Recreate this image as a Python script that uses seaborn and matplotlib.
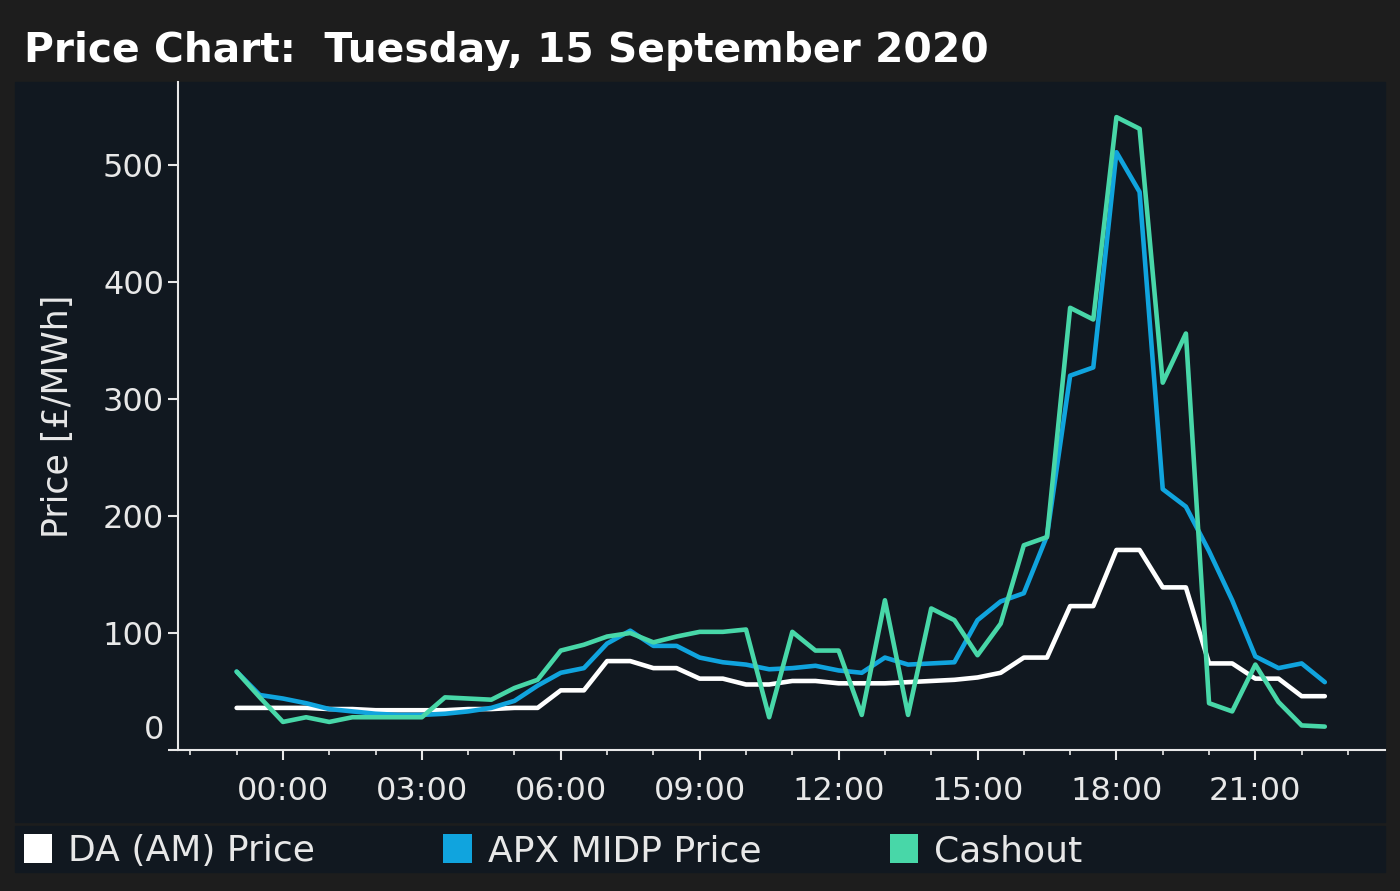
import matplotlib
matplotlib.use("Agg")
import matplotlib.dates as mdates
import matplotlib.pyplot as plt
from matplotlib.patches import Patch, Rectangle
from matplotlib.transforms import ScaledTranslation
import pandas as pd
import seaborn as sns

OUTER = "#1d1d1d"
PANEL = "#111820"
FG = "#e8e8e8"

# 48 half-hourly settlement periods, BST day starts 23:00 UTC the evening before
TIMES = pd.date_range("2020-09-14 23:00", periods=48, freq="30min")

SERIES = ["DA (AM) Price", "APX MIDP Price", "Cashout"]
COLOURS = ["#ffffff", "#10a4de", "#48d7a8"]

DA_PRICE = [36, 36, 36, 36, 35, 35, 34, 34, 34, 34, 35, 35, 36, 36,
            51, 51, 76, 76, 70, 70, 61, 61, 56, 56, 59, 59, 57, 57, 57, 58, 59, 60,
            62, 66, 79, 79, 123, 123, 171, 171, 139, 139, 74, 74, 61, 61, 46, 46]
APX_PRICE = [67, 47, 44, 40, 35, 33, 31, 30, 30, 31, 33, 36, 42, 55,
             66, 70, 91, 102, 89, 89, 79, 75, 73, 69, 70, 72, 68, 66,
             79, 73, 74, 75, 111, 127, 134, 183,
             320, 327, 511, 477, 223, 208, 170, 128, 80, 70, 74, 58]
CASHOUT = [67, 45, 24, 28, 24, 28, 28, 28, 28, 45, 44, 43, 53, 60,
           85, 90, 97, 100, 92, 97, 101, 101, 103, 28, 101, 85, 85, 30,
           128, 30, 121, 111, 81, 108, 175, 182,
           378, 368, 541, 531, 314, 356, 40, 33, 73, 41, 21, 20]

Y_TICKS = [0, 100, 200, 300, 400, 500]

W, H = 1400, 891


def main():
    sns.set_style("ticks", rc={"axes.facecolor": PANEL, "figure.facecolor": OUTER,
                               "axes.edgecolor": FG, "xtick.color": FG,
                               "ytick.color": FG, "text.color": FG,
                               "axes.labelcolor": FG})
    plt.rcParams["font.family"] = ["DejaVu Sans"]

    prices = pd.DataFrame({"time": TIMES, SERIES[0]: DA_PRICE,
                           SERIES[1]: APX_PRICE, SERIES[2]: CASHOUT})
    prices = prices.melt("time", var_name="series", value_name="price")

    fig = plt.figure(figsize=(W / 100, H / 100), dpi=100)
    # dark panel behind the chart and behind the legend row
    fig.patches.append(Rectangle((15 / W, 1 - 822 / H), 1370 / W, 740 / H,
                                 transform=fig.transFigure, color=PANEL, zorder=-5))
    fig.patches.append(Rectangle((15 / W, 1 - 872 / H), 1370 / W, 46 / H,
                                 transform=fig.transFigure, color=PANEL, zorder=-5))

    ax = fig.add_axes([178 / W, 1 - 750 / H, 1207 / W, 668 / H])
    sns.lineplot(data=prices, x="time", y="price", hue="series",
                 hue_order=SERIES, palette=COLOURS, linewidth=3.3,
                 legend=False, ax=ax)

    ax.set_xlim(pd.Timestamp("2020-09-14 21:44"), pd.Timestamp("2020-09-15 23:48"))
    ax.set_ylim(0, 571)
    ax.xaxis.set_major_locator(mdates.HourLocator(byhour=range(0, 24, 3)))
    ax.xaxis.set_minor_locator(mdates.HourLocator())
    ax.xaxis.set_major_formatter(mdates.DateFormatter("%H:%M"))
    ax.set_yticks(Y_TICKS)
    ax.tick_params(axis="both", which="major", labelsize=23, width=1.5)
    ax.tick_params(axis="x", which="major", length=7, pad=12)
    ax.tick_params(axis="x", which="minor", length=3.5, width=1.2, color=FG)
    ax.tick_params(axis="y", which="major", length=7, pad=3)
    for side in ("top", "right"):
        ax.spines[side].set_visible(False)
    for side in ("left", "bottom"):
        ax.spines[side].set_linewidth(1.5)
    ax.set_xlabel("")
    ax.set_ylabel("Price [£/MWh]", fontsize=25, labelpad=20)

    # the zero label sits a little above its tick
    zero = ax.yaxis.get_major_ticks()[0].label1
    zero.set_transform(zero.get_transform()
                       + ScaledTranslation(0, 0.23, fig.dpi_scale_trans))

    fig.text(24 / W, 1 - 51 / H, "Price Chart:  Tuesday, 15 September 2020",
             fontsize=29.3, fontweight="bold", color="white", va="center", ha="left")

    handles = [Patch(facecolor=c, edgecolor="none") for c in COLOURS]
    fig.legend(handles, SERIES, loc="center left",
               bbox_to_anchor=(24 / W, 1 - 851 / H), ncol=3, frameon=False,
               fontsize=26, handlelength=0.78, handleheight=0.85,
               handletextpad=0.45, columnspacing=3.55, borderpad=0,
               borderaxespad=0)

    fig.savefig("out.png", dpi=100, facecolor=OUTER)


if __name__ == "__main__":
    main()
